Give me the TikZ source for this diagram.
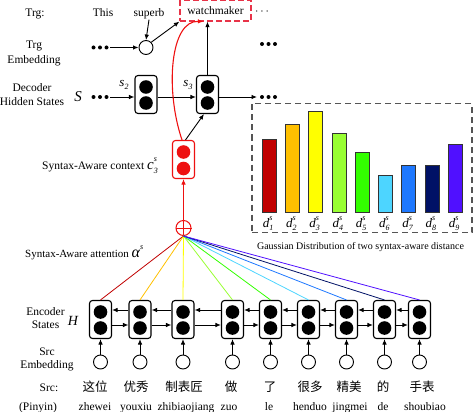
\documentclass[tikz,border=0pt]{standalone}
\usepackage{fontspec}
\setmainfont{Liberation Serif}
\newfontfamily\cjk{Noto Sans CJK SC}
\usetikzlibrary{arrows.meta}
\definecolor{c1}{HTML}{C00000}
\definecolor{c2}{HTML}{FFC000}
\definecolor{c3}{HTML}{FFFF00}
\definecolor{c4}{HTML}{99FF33}
\definecolor{c5}{HTML}{33FF00}
\definecolor{c6}{HTML}{4DD5FF}
\definecolor{c7}{HTML}{1E78FF}
\definecolor{c8}{HTML}{001166}
\definecolor{c9}{HTML}{5010FF}
\definecolor{ctxred}{HTML}{EE1111}
\definecolor{wmred}{HTML}{E83348}
\definecolor{gboxgray}{HTML}{555555}
\newcommand\sbsp[3]{#1\rlap{\raisebox{0.5em}{\fontsize{8}{8}\selectfont\itshape #3}}\raisebox{-0.3em}{\fontsize{8}{8}\selectfont\itshape #2}}
\begin{document}
\begin{tikzpicture}[x=1pt,y=-1pt,
  lbl/.style={font=\fontsize{11.5}{13}\selectfont, anchor=base, inner sep=0pt},
  cjklbl/.style={font=\cjk\fontsize{12.5}{13}\selectfont, anchor=base, inner sep=0pt},
  cell/.style={draw, line width=1.1pt, rounded corners=3pt, minimum width=22pt, minimum height=38pt, inner sep=0pt, fill=white},
  emb/.style={draw, circle, line width=0.9pt, minimum size=14pt, inner sep=0pt, fill=white},
  arr/.style={-{Latex[length=5.5pt,width=4.5pt]}, line width=0.9pt},
  bar/.style={draw=black!80, line width=0.5pt},
]
\useasboundingbox (0,0) rectangle (474,412);

% ---------- left labels ----------
\node[lbl] (lTrg) at (35,17) {Trg:};
\node[lbl] (lTrgE1) at (34,49) {Trg};
\node[lbl] (lTrgE2) at (34,63.5) {Embedding};
\node[lbl] (lDec1) at (32,92) {Decoder};
\node[lbl] (lDec2) at (32,106) {Hidden States};
\node[lbl, font=\fontsize{15}{15}\selectfont\itshape] (lS) at (78,102) {S};
\node[lbl, anchor=base west] (lCtx) at (42,169) {Syntax-Aware context {\fontsize{15}{15}\selectfont\itshape\sbsp{c}{3}{s}}};
\node[lbl, anchor=base west, font=\fontsize{11}{13}\selectfont] (lAtt) at (25,257) {Syntax-Aware attention {\fontsize{16}{16}\selectfont\itshape α\raisebox{0.45em}{\fontsize{8}{8}\selectfont\itshape s}}};
\node[lbl] (lEnc1) at (45.5,315) {Encoder};
\node[lbl] (lEnc2) at (45.5,328) {States};
\node[lbl, font=\fontsize{14}{14}\selectfont\itshape] (lH) at (73,325) {H};
\node[lbl] (lSrcE1) at (47,355) {Src};
\node[lbl] (lSrcE2) at (47,368) {Embedding};
\node[lbl] (lSrc) at (49,391) {Src:};
\node[lbl] (lPin) at (38,410.5) {(Pinyin)};

% ---------- target words ----------
\node[lbl] (wThis) at (103,17) {This};
\node[lbl] (wSup) at (149,17) {superb};
\node[draw=wmred, dashed, dash pattern=on 6pt off 3pt, line width=1.2pt, minimum width=71pt, minimum height=20.5pt, inner sep=0pt, font=\fontsize{11.5}{13}\selectfont] (wm) at (215.5,10.75) {watchmaker};
\node[lbl] (wDots) at (262,15) {$\cdots$};

% ---------- target embedding ----------
\foreach \x in {93.5,100,106.5} \fill (\x,47.5) circle (2pt);
\foreach \x in {262,268.5,275} \fill (\x,44) circle (2pt);
\coordinate (tl) at (110,47.5);
\node[emb] (t3) at (146,47.5) {};
\draw[arr] (tl) -- (t3.west);
\draw[arr] (wSup.south) -- (t3.north);
\draw[arr] (t3.north east) -- (wm.south west);

% ---------- decoder ----------
\foreach \x in {93.5,100,106.5} \fill (\x,97) circle (2pt);
\foreach \x in {262,268.5,275} \fill (\x,97) circle (2pt);
\coordinate (dl) at (110,97);
\coordinate (dr) at (257,97);
\node[cell] (d2) at (146,94.5) {};
\node[cell] (d3) at (207.5,94.5) {};
\foreach \x in {146,207.5} {\fill (\x,87) circle (6.8pt); \fill (\x,103) circle (6.8pt);}
\draw[arr] (dl) -- (dl -| d2.west);
\draw[arr] (d2.east |- dl) -- (d3.west |- dl);
\draw[arr] (d3.east |- dl) -- (dr);
\draw[arr] (d3.north) -- (d3.north |- wm.south);
\node[lbl, font=\fontsize{13}{13}\selectfont\itshape] (ls2) at (124,86) {\sbsp{s}{2}{}};
\node[lbl, font=\fontsize{13}{13}\selectfont\itshape] (ls3) at (188,86) {\sbsp{s}{3}{}};

% ---------- syntax-aware context ----------
\node[cell, draw=ctxred] (ctx) at (183.5,159.5) {};
\fill[ctxred] (183.5,152) circle (6.8pt);
\fill[ctxred] (183.5,168.5) circle (6.8pt);
\node[draw=ctxred, circle, line width=1pt, minimum size=15pt, inner sep=0pt] (plus) at (183.5,228) {};
\draw[ctxred, line width=1pt] (plus.north) -- (plus.south) (plus.west) -- (plus.east);
\draw[arr, ctxred] (plus.north) -- (ctx.south);
\draw[ctxred, line width=1.1pt, -{Latex[length=5.5pt,width=4.5pt]}] ([xshift=-1.5pt]ctx.north) .. controls (165,90) and (170,20) .. ([xshift=24pt]wm.south west);
\draw[arr] ([xshift=2pt]ctx.north) -- ([xshift=-3.5pt]d3.south);

% ---------- encoder ----------
\foreach \i/\x/\c in {1/100.5/c1,2/140/c2,3/183/c3,4/232.5/c4,5/270.5/c5,6/308.5/c6,7/346.5/c7,8/384.5/c8,9/419.5/c9} {
  \node[cell] (e\i) at (\x,319.5) {};
  \fill (\x,312) circle (6.8pt);
  \fill (\x,328) circle (6.8pt);
  \node[emb] (x\i) at (\x,362) {};
  \draw[arr] (x\i.north) -- (e\i.south);
  \draw[\c, line width=0.8pt] (plus.south) -- (e\i.north);
}
\foreach \i/\j in {1/2,2/3,3/4,4/5,5/6,6/7,7/8,8/9} {
  \draw[arr] ([yshift=9.5pt]e\j.west) -- ([yshift=9.5pt]e\i.east);
  \draw[arr] ([yshift=-5.5pt]e\i.east) -- ([yshift=-5.5pt]e\j.west);
}

% ---------- source words ----------
\foreach \n/\x/\w in {1/95/这位,2/136/优秀,3/184/制表匠,4/231/做,5/270/了,6/310/很多,7/349/精美,8/383/的,9/422/手表}
  \node[cjklbl] (s\n) at (\x,391) {\w};
\foreach \n/\x/\w in {1/95/zhewei,2/136/youxiu,3/186/zhibiaojiang,4/229/zuo,5/269/le,6/310/henduo,7/350/jingmei,8/383/de,9/425/shoubiao}
  \node[lbl] (p\n) at (\x,410) {\w};

% ---------- gaussian distribution ----------
\node[draw=gboxgray, dash pattern=on 6pt off 4pt, line width=1.2pt, minimum width=220pt, minimum height=129pt, inner sep=0pt] (gauss) at (362,168) {};
\foreach \i/\t/\c in {1/139/c1,2/124/c2,3/111/c3,4/133/c4,5/152/c5,6/175/c6,7/165/c7,8/165/c8,9/144/c9} {
  \pgfmathsetmacro\xl{262+23.25*(\i-1)}
  \filldraw[bar, fill=\c] (\xl,212) rectangle (\xl+14,\t);
  \node[lbl, font=\fontsize{13}{13}\selectfont\itshape] (dl\i) at (\xl+6,227) {\sbsp{d}{\i}{s}};
}
\node[lbl, font=\fontsize{10}{11}\selectfont] (gcap) at (360.5,249.5) {Gaussian Distribution of two syntax-aware distance};
\end{tikzpicture}
\end{document}
